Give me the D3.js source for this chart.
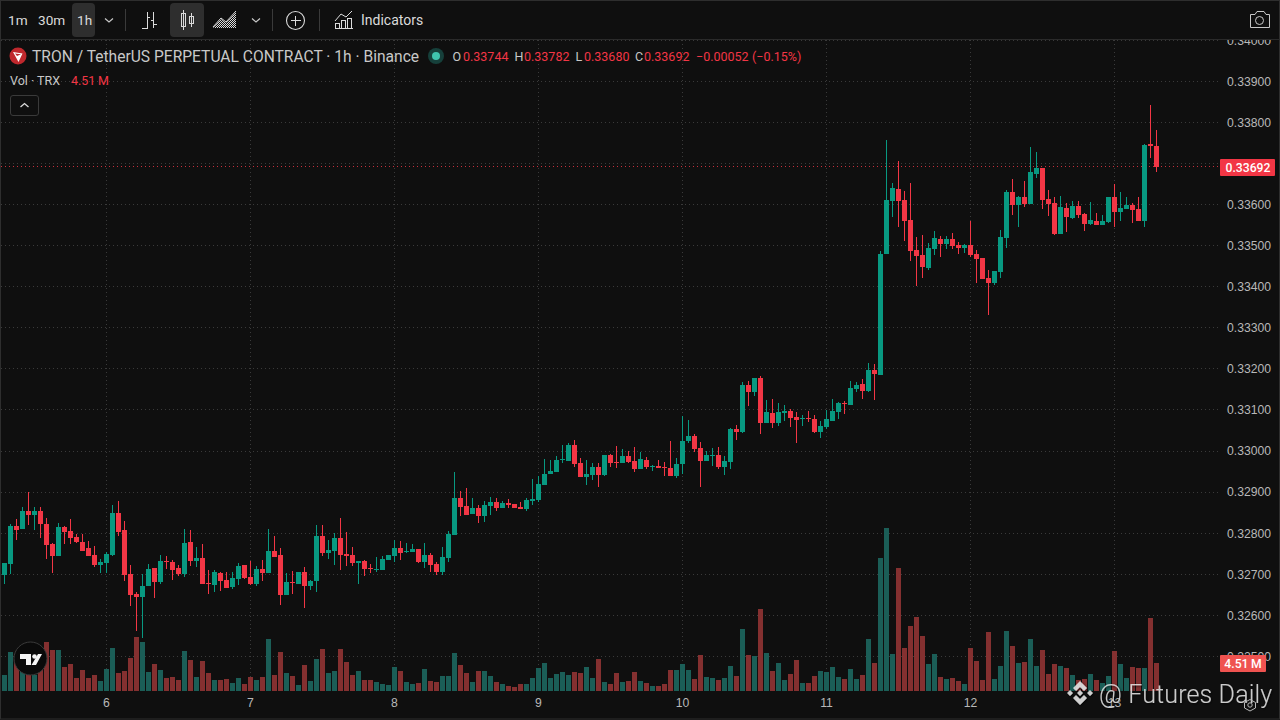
<!DOCTYPE html>
<html><head><meta charset="utf-8">
<script src="https://cdn.jsdelivr.net/npm/d3@7/dist/d3.min.js"></script>
<style>
html,body{margin:0;padding:0;background:#0f0f0f;overflow:hidden}
svg{display:block;font-family:Roboto,"Liberation Sans",sans-serif}
</style></head><body><svg id="c" width="1280" height="720"></svg>
<script>
const opens=[.32698,.32724,.32817,.32810,.32853,.32844,.32853,.32822,.32773,.32744,.32815,.32805,.32790,.32778,.32763,.32746,.32722,.32727,.32746,.32849,
.32807,.32700,.32651,.32644,.32671,.32715,.32681,.32732,.32729,.32715,.32700,.32778,.32732,.32739,.32678,.32673,.32702,.32685,.32669,.32688,
.32723,.32693,.32676,.32713,.32703,.32757,.32747,.32649,.32681,.32676,.32706,.32671,.32684,.32793,.32752,.32757,.32788,.32749,.32747,.32727,
.32732,.32715,.32710,.32710,.32735,.32745,.32764,.32754,.32754,.32762,.32730,.32747,.32725,.32706,.32740,.32795,.32886,.32866,.32847,.32861,
.32842,.32866,.32876,.32861,.32873,.32871,.32864,.32859,.32878,.32881,.32917,.32944,.32949,.32978,.32976,.33015,.32971,.32937,.32942,.32961,
.32942,.32990,.32973,.32971,.32988,.32976,.32956,.32978,.32961,.32964,.32961,.32959,.32939,.32969,.33025,.33037,.33008,.32976,.32988,.32991,
.32961,.32974,.33054,.33047,.33161,.33144,.33178,.33069,.33093,.33069,.33093,.33098,.33083,.33078,.33081,.33078,.33047,.33059,.33073,.33095,
.33117,.33112,.33151,.33164,.33146,.33198,.33185,.33480,.33609,.33638,.33611,.33563,.33490,.33477,.33446,.33492,.33516,.33504,.33516,.33502,
.33495,.33502,.33480,.33470,.33421,.33409,.33436,.33519,.33631,.33599,.33619,.33602,.33675,.33689,.33614,.33604,.33529,.33592,.33568,.33597,
.33577,.33553,.33560,.33550,.33558,.33619,.33582,.33589,.33599,.33589,.33560,.33748,.33744];
const closes=[.32727,.32817,.32807,.32853,.32844,.32853,.32822,.32771,.32744,.32815,
.32802,.32788,.32778,.32756,.32744,.32722,.32729,.32749,.32849,.32802,
.32698,.32649,.32644,.32671,.32712,.32681,.32732,.32729,.32710,.32700,
.32776,.32732,.32739,.32676,.32676,.32705,.32683,.32666,.32691,.32720,
.32691,.32676,.32713,.32703,.32757,.32742,.32649,.32681,.32679,.32706,
.32671,.32684,.32793,.32752,.32759,.32788,.32747,.32745,.32727,.32732,
.32713,.32713,.32713,.32737,.32747,.32764,.32752,.32757,.32762,.32730,
.32747,.32723,.32706,.32742,.32798,.32886,.32864,.32844,.32861,.32842,
.32869,.32876,.32861,.32873,.32869,.32861,.32859,.32881,.32883,.32920,
.32944,.32951,.32978,.32981,.33015,.32968,.32937,.32944,.32961,.32942,
.32990,.32971,.32971,.32988,.32973,.32956,.32981,.32961,.32964,.32959,
.32959,.32939,.32969,.33025,.33037,.33005,.32976,.32991,.32991,.32961,
.32976,.33054,.33047,.33161,.33144,.33178,.33069,.33095,.33069,.33095,
.33098,.33081,.33076,.33081,.33078,.33047,.33061,.33078,.33098,.33117,
.33115,.33154,.33161,.33146,.33198,.33188,.33480,.33611,.33641,.33609,
.33560,.33487,.33475,.33448,.33495,.33519,.33504,.33516,.33499,.33495,
.33502,.33477,.33468,.33419,.33409,.33439,.33521,.33631,.33599,.33619,
.33602,.33680,.33689,.33611,.33602,.33529,.33594,.33570,.33597,.33575,
.33553,.33563,.33550,.33560,.33619,.33582,.33592,.33599,.33587,.33560,
.33745,.33743,.33692];
const highs=[.32727,.32822,.32834,.32863,.32900,.32863,.32863,.32836,.32776,.32824,
.32817,.32834,.32797,.32797,.32780,.32768,.32737,.32754,.32868,.32878,
.32829,.32722,.32656,.32700,.32724,.32715,.32746,.32744,.32734,.32722,
.32810,.32807,.32766,.32773,.32710,.32710,.32705,.32705,.32706,.32727,
.32723,.32732,.32720,.32735,.32810,.32793,.32764,.32703,.32708,.32706,
.32718,.32686,.32820,.32820,.32783,.32801,.32837,.32803,.32766,.32732,
.32735,.32725,.32742,.32745,.32747,.32783,.32781,.32776,.32774,.32762,
.32776,.32752,.32730,.32766,.32805,.32949,.32903,.32910,.32886,.32869,
.32878,.32888,.32886,.32878,.32883,.32871,.32876,.32886,.32932,.32939,
.32981,.32978,.32988,.33015,.33020,.33027,.32983,.32978,.32971,.32971,
.32990,.32993,.33012,.33005,.33000,.33010,.32998,.32986,.32966,.32978,
.32974,.33025,.32983,.33086,.33076,.33042,.33022,.33000,.33008,.33010,
.32988,.33056,.33064,.33168,.33171,.33178,.33183,.33125,.33127,.33117,
.33112,.33103,.33095,.33088,.33098,.33088,.33073,.33100,.33127,.33120,
.33122,.33171,.33168,.33176,.33215,.33212,.33487,.33758,.33653,.33706,
.33633,.33653,.33521,.33526,.33507,.33536,.33524,.33524,.33531,.33509,
.33504,.33560,.33490,.33470,.33441,.33439,.33538,.33636,.33663,.33621,
.33658,.33741,.33728,.33689,.33636,.33619,.33621,.33604,.33609,.33609,
.33580,.33607,.33580,.33575,.33619,.33650,.33631,.33619,.33604,.33619,
.33748,.33843,.33782];
const lows=[.32676,.32700,.32783,.32810,.32819,.32807,.32788,.32737,.32702,.32744,
.32773,.32773,.32776,.32756,.32744,.32717,.32702,.32702,.32744,.32793,
.32683,.32622,.32561,.32544,.32671,.32642,.32676,.32712,.32685,.32695,
.32693,.32720,.32717,.32676,.32651,.32656,.32659,.32666,.32664,.32674,
.32688,.32674,.32671,.32684,.32703,.32742,.32625,.32649,.32652,.32676,
.32618,.32662,.32657,.32745,.32737,.32723,.32710,.32720,.32720,.32676,
.32696,.32703,.32706,.32710,.32735,.32730,.32735,.32752,.32754,.32727,
.32715,.32706,.32698,.32698,.32730,.32795,.32842,.32844,.32847,.32825,
.32827,.32844,.32854,.32861,.32861,.32861,.32859,.32854,.32869,.32876,
.32917,.32944,.32949,.32971,.32976,.32961,.32937,.32917,.32929,.32912,
.32939,.32961,.32959,.32971,.32971,.32949,.32956,.32956,.32951,.32959,
.32939,.32939,.32935,.32944,.33020,.32998,.32913,.32976,.32964,.32956,
.32942,.32956,.33027,.33044,.33110,.33134,.33042,.33069,.33056,.33061,
.33073,.33059,.33020,.33061,.33071,.33044,.33032,.33054,.33073,.33078,
.33090,.33112,.33144,.33127,.33144,.33125,.33185,.33480,.33570,.33546,
.33512,.33463,.33402,.33421,.33441,.33477,.33473,.33492,.33492,.33480,
.33482,.33473,.33409,.33419,.33331,.33404,.33421,.33495,.33575,.33546,
.33594,.33602,.33665,.33589,.33572,.33526,.33529,.33533,.33565,.33568,
.33536,.33550,.33550,.33550,.33555,.33546,.33560,.33589,.33555,.33560,
.33546,.33714,.33680];
const volumesM=[2.56,6.24,4.96,4.48,2.56,2.56,4.16,7.84,6.56,6.56,3.84,4.32,2.08,3.36,2.08,2.56,1.6,3.52,6.88,2.88,3.2,5.28,8.64,7.84,3.04,4.32,3.36,2.08,2.24,1.76,6.4,4.96,2.24,4.8,2.88,1.76,1.76,1.92,1.28,2.08,1.12,2.24,1.76,2.24,8.32,2.56,6.24,2.88,2.4,.96,4.16,1.6,5.12,6.72,2.88,3.2,6.72,4.64,2.56,3.2,1.76,1.76,1.44,1.12,.96,3.84,3.2,
1.44,1.12,1.28,3.52,1.6,1.44,2.4,2.4,6.08,4.16,2.88,1.44,3.2,3.2,2.4,1.44,1.12,.8,.64,1.12,1.12,2.08,3.68,4.48,2.08,2.72,3.04,2.56,3.04,2.88,3.84,2.08,5.12,1.44,1.12,2.88,1.44,1.6,3.04,1.6,1.28,.8,.8,1.12,3.36,3.36,4.32,3.36,1.92,5.76,2.24,2.08,1.76,2.08,4,2.4,9.92,5.76,5.6,13.12,6.08,3.2,4.48,1.76,2.72,4.96,
1.28,1.28,2.4,3.2,3.04,3.84,2.24,1.92,3.52,1.92,2.56,8.32,4.48,21.28,26.08,5.92,19.68,6.88,10.4,11.84,8.8,4.32,5.92,2.24,1.92,2.08,1.6,1.12,6.88,4.8,1.76,9.44,1.92,4,9.6,7.2,4.48,4.64,8.32,4,6.56,2.72,4.32,4,3.68,2.56,1.76,1.92,2.72,1.76,1.28,2.4,6.4,4.32,2.08,3.84,3.68,3.68,11.68,4.51];
const priceTicks=[.340,.339,.338,.337,.336,.335,.334,.333,.332,.331,.330,.329,.328,.327,.326,.325];
const priceTickLabels=[.340,.339,.338,.336,.335,.334,.333,.332,.331,.330,.329,.328,.327,.326,.325];
const dayLabels=["6","7","8","9","10","11","12","13"];
const dayIndex=[17,41,65,89,113,137,161,185];
const lastPrice=.33692, lastVolLabel="4.51\u2009M";
const ohlcLegend=[["O",452.5,"0.33744",463],["H",514.5,"0.33782",524],["L",575.5,"0.33680",584],["C",635,"0.33692",644]];

const GREEN="#089981",RED="#f23645",VG="#1b5e57",VR="#843030",GRID="#3a3a3a",TXT="#b8b8b8";
const svg=d3.select("#c");
const x=d3.scaleLinear().domain([0,192]).range([4.5,1156.5]);
const y=d3.scaleLinear().domain([.325,.340]).range([656.25,40.5]);
const yV=d3.scaleLinear().domain([0,26.08]).range([691,528]);
const idx=d3.range(opens.length);
const defs=svg.append("defs");
defs.append("clipPath").attr("id","pane").append("rect").attr("x",0).attr("y",40).attr("width",1219).attr("height",678);
defs.append("clipPath").attr("id","ax").append("rect").attr("x",1219).attr("y",40).attr("width",60).attr("height",640);
const f=defs.append("filter").attr("id","sh").attr("x","-5%").attr("y","-20%").attr("width","110%").attr("height","140%");
f.append("feDropShadow").attr("dx",1).attr("dy",1).attr("stdDeviation",1).attr("flood-color","#000").attr("flood-opacity",.8);

// grid
const pane=svg.append("g").attr("clip-path","url(#pane)");
const grid=pane.append("g").attr("shape-rendering","crispEdges").attr("stroke",GRID).attr("stroke-dasharray","1 3");
grid.selectAll(".h").data(priceTicks).join("line").attr("x1",1).attr("x2",1218)
 .attr("y1",d=>Math.floor(y(d))+.5).attr("y2",d=>Math.floor(y(d))+.5);
grid.selectAll(".v").data(dayIndex).join("line").attr("x1",d=>x(d)).attr("x2",d=>x(d)).attr("y1",40).attr("y2",691);

// volume
pane.append("g").attr("shape-rendering","crispEdges").selectAll("rect").data(idx).join("rect")
 .attr("x",i=>x(i)-2.5).attr("width",5).attr("y",i=>Math.round(yV(volumesM[i]))).attr("height",i=>691-Math.round(yV(volumesM[i])))
 .attr("fill",i=>closes[i]>=opens[i]?VG:VR);

// last price line
pane.append("line").attr("x1",1).attr("x2",1218).attr("y1",Math.floor(y(lastPrice))+.5).attr("y2",Math.floor(y(lastPrice))+.5)
 .attr("stroke",RED).attr("stroke-dasharray","1 3").attr("shape-rendering","crispEdges").attr("stroke-opacity",.8);

// candles
const c=pane.append("g").attr("shape-rendering","crispEdges");
c.selectAll(".w").data(idx).join("line").attr("x1",i=>x(i)).attr("x2",i=>x(i))
 .attr("y1",i=>Math.round(y(highs[i]))).attr("y2",i=>Math.round(y(lows[i])))
 .attr("stroke",i=>closes[i]>=opens[i]?GREEN:RED);
c.selectAll(".b").data(idx).join("rect").attr("x",i=>x(i)-2.5).attr("width",5)
 .attr("y",i=>Math.round(y(Math.max(opens[i],closes[i]))))
 .attr("height",i=>Math.max(1,Math.round(y(Math.min(opens[i],closes[i])))-Math.round(y(Math.max(opens[i],closes[i])))))
 .attr("fill",i=>closes[i]>=opens[i]?GREEN:RED);

// axes
const axR=svg.append("g").attr("clip-path","url(#ax)").append("g").attr("transform","translate(1227,0)")
 .call(d3.axisRight(y).tickValues(priceTickLabels).tickSize(0).tickPadding(0).tickFormat(d3.format(".5f")));
axR.select(".domain").remove();
axR.selectAll("text").attr("fill",TXT).attr("font-size",12.2).attr("x",0);
const axB=svg.append("g").attr("transform","translate(-0.5,698)")
 .call(d3.axisBottom(x).tickValues(dayIndex).tickSize(0).tickPadding(0).tickFormat((d,i)=>dayLabels[i]));
axB.select(".domain").remove();
axB.selectAll("text").attr("fill",TXT).attr("font-size",12.2);

// last tags
svg.append("rect").attr("x",1220).attr("y",159).attr("width",55).attr("height",17).attr("rx",1).attr("fill",RED);
svg.append("text").attr("x",1248).attr("y",172).attr("text-anchor","middle").attr("fill","#fff").attr("font-size",12.2).attr("font-weight",500).text(d3.format(".5f")(lastPrice));
svg.append("rect").attr("x",1220).attr("y",655).attr("width",46).attr("height",17).attr("rx",1).attr("fill","#ef5350");
svg.append("text").attr("x",1243).attr("y",668).attr("text-anchor","middle").attr("fill","#fff").attr("font-size",12.2).attr("font-weight",500).text(lastVolLabel);

// toolbar
const tb=svg.append("g");
[[8,"1m"],[38,"30m"]].forEach(d=>tb.append("text").attr("x",d[0]).attr("y",25).attr("fill","#dbdbdb").attr("font-size",13.6).text(d[1]));
tb.append("rect").attr("x",72).attr("y",3).attr("width",23).attr("height",34).attr("rx",4).attr("fill","#2e2e2e");
tb.append("text").attr("x",77).attr("y",25).attr("fill","#dbdbdb").attr("font-size",13.6).text("1h");
tb.append("rect").attr("x",170).attr("y",3).attr("width",34).attr("height",34).attr("rx",4).attr("fill","#2e2e2e");
const ic=tb.append("g").attr("fill","none").attr("stroke","#dbdbdb").attr("stroke-width",1).attr("shape-rendering","crispEdges");
const chev=cx=>tb.append("path").attr("d",`M${cx-4},18.5 L${cx},22 L${cx+4},18.5`).attr("fill","none").attr("stroke","#c8c8c8").attr("stroke-width",1.2);
chev(109);chev(256);
[125.5,272.5,319.5].forEach(v=>tb.append("line").attr("x1",v).attr("x2",v).attr("y1",9).attr("y2",31).attr("stroke","#3a3a3a"));
ic.append("path").attr("d","M147.5,12V28M142,28H147.5M147.5,17H150M153.5,12V28M151,20H153.5M153.5,24H157");
ic.append("path").attr("d","M183.5,10V30M181.5,13.5H185.5V26.5H181.5ZM191.5,13V27M189.5,16.5H193.5V23.5H189.5Z");
tb.append("path").attr("d","M213,28L221,19L226,23L236,12V28Z").attr("fill","url(#hatch)");
const ht=defs.append("pattern").attr("id","hatch").attr("width",2).attr("height",2).attr("patternUnits","userSpaceOnUse");
ht.append("rect").attr("width",1).attr("height",1).attr("fill","#dbdbdb");
ht.append("rect").attr("x",1).attr("y",1).attr("width",1).attr("height",1).attr("fill","#dbdbdb");
tb.append("path").attr("d","M213,27L221,18L226,22L236,11").attr("fill","none").attr("stroke","#dbdbdb");
tb.append("circle").attr("cx",295.5).attr("cy",20.5).attr("r",9).attr("fill","none").attr("stroke","#dbdbdb").attr("stroke-width",1.1);
ic.append("path").attr("d","M295.5,15.5V25.5M290.5,20.5H300.5");
ic.append("path").attr("d","M335.5,28.5H352.5M335.5,28.5V23.5H339.5V28.5M341.5,28.5V20.5H345.5V28.5M347.5,28.5V18.5H351.5V28.5");
tb.append("path").attr("d","M335,21L341,14L346,17L352,11").attr("fill","none").attr("stroke","#dbdbdb");
tb.append("text").attr("x",361).attr("y",25).attr("fill","#dbdbdb").attr("font-size",14).text("Indicators");
// camera
tb.append("path").attr("d","M1250.5,14.5H1255L1257,11.5H1264L1266,14.5H1269.5V27.5H1250.5Z").attr("fill","none").attr("stroke","#c8c8c8");
tb.append("circle").attr("cx",1259.5).attr("cy",20.5).attr("r",4).attr("fill","none").attr("stroke","#c8c8c8");

// legend
const lg=svg.append("g");
lg.append("circle").attr("cx",18).attr("cy",56).attr("r",8.5).attr("fill","#c0282d");
lg.append("path").attr("d","M13,52L22.5,53.5L18.5,62Z M15,53.5L21,54.2L17,56Z").attr("fill","#fff").attr("fill-rule","evenodd");
lg.append("text").attr("x",32).attr("y",62).attr("fill","#c8c8c8").attr("font-size",15.6).text("TRON / TetherUS PERPETUAL CONTRACT \u00b7 1h \u00b7 Binance");
lg.append("circle").attr("cx",436).attr("cy",56).attr("r",8).attr("fill","#16403b");
lg.append("circle").attr("cx",436).attr("cy",56).attr("r",4).attr("fill","#3fc4ae");
ohlcLegend.forEach(d=>{
 lg.append("text").attr("x",d[1]).attr("y",61).attr("fill","#c8c8c8").attr("font-size",12.5).text(d[0]);
 lg.append("text").attr("x",d[3]).attr("y",61).attr("fill",RED).attr("font-size",12.5).text(d[2]);
});
lg.append("text").attr("x",696).attr("y",61).attr("fill",RED).attr("font-size",12.5).text("\u22120.00052");
lg.append("text").attr("x",752).attr("y",61).attr("fill",RED).attr("font-size",12.5).text("(\u22120.15%)");
lg.append("text").attr("x",10).attr("y",85).attr("fill","#c8c8c8").attr("font-size",12.5).text("Vol \u00b7 TRX");
lg.append("text").attr("x",71).attr("y",85).attr("fill",RED).attr("font-size",12.5).text(lastVolLabel);
lg.append("rect").attr("x",10.5).attr("y",95.5).attr("width",28).attr("height",20).attr("rx",2.5).attr("fill","#0f0f0f").attr("stroke","#3a3a3a");
lg.append("path").attr("d","M20.5,107L24.5,103.5L28.5,107").attr("fill","none").attr("stroke","#dbdbdb").attr("stroke-width",1.3);

// TV logo
svg.append("circle").attr("cx",30.5).attr("cy",658.5).attr("r",16.5).attr("fill","#0a0a0a").attr("stroke","#3a3a3a").attr("stroke-width",1);
svg.append("path").attr("d","M20,654H31V665H26V659H20Z M38,654H42L36,665H31.5Z").attr("fill","#f5f5f5");
svg.append("circle").attr("cx",34.5).attr("cy",656.5).attr("r",2.3).attr("fill","#f5f5f5");

// watermark
const wm=svg.append("g").attr("filter","url(#sh)").attr("fill","#e8e8e8").attr("fill-opacity",.85);
wm.append("path").attr("d","M1080,681L1087,688L1084,691L1080,687L1076,691L1073,688Z M1080,705L1073,698L1076,695L1080,699L1084,695L1087,698Z M1067,693L1070,690L1073,693L1070,696Z M1087,693L1090,690L1093,693L1090,696Z M1077,693L1080,690L1083,693L1080,696Z");
wm.append("text").attr("x",1099).attr("y",703).attr("font-size",25).attr("font-weight",300).attr("letter-spacing",.15).text("@ Futures Daily");
// settings glyph
svg.append("path").attr("d","M1250,699.5L1255.5,702.5V708L1250,711L1244.5,708V702.5Z").attr("fill","none").attr("stroke","#b8b8b8");
svg.append("circle").attr("cx",1250).attr("cy",705).attr("r",2.2).attr("fill","none").attr("stroke","#b8b8b8");

// frame
svg.append("rect").attr("x",.5).attr("y",.5).attr("width",1279).attr("height",718.5).attr("fill","none").attr("stroke","#2e2e2e");
svg.append("line").attr("x1",0).attr("x2",1280).attr("y1",39.5).attr("y2",39.5).attr("stroke","#2a2a2a");
</script></body></html>
